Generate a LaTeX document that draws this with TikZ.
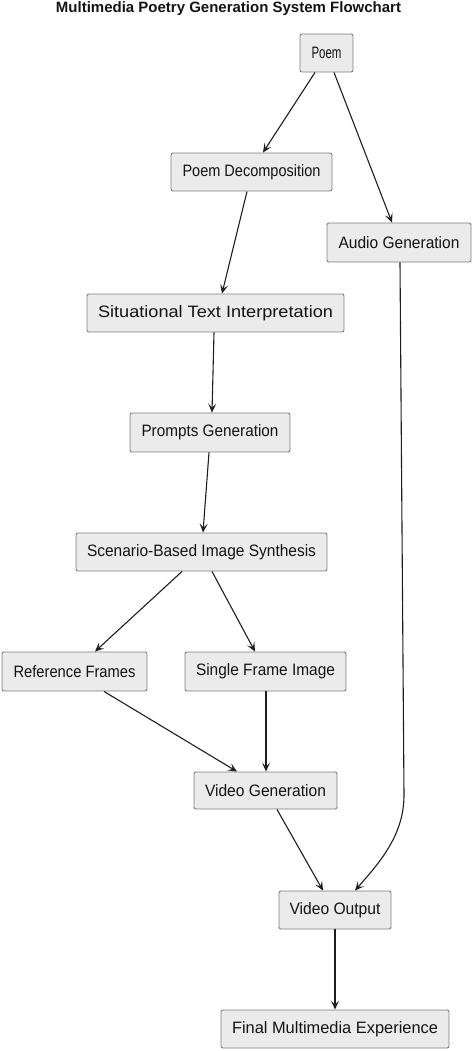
\documentclass[tikz,border=0pt]{standalone}
\usepackage{fontspec}
\setmainfont{Liberation Sans}
\usetikzlibrary{arrows.meta,calc}
\definecolor{boxfill}{HTML}{EBEBEB}
\definecolor{boxline}{HTML}{7E7E7E}
\definecolor{edgecol}{HTML}{1E1E1E}
\definecolor{txtcol}{HTML}{141414}
\newlength\fitlen
\newcommand\fitw[2]{\settowidth\fitlen{#2}\pgfmathsetmacro\fitsx{#1/\fitlen}\scalebox{\fitsx}[1]{#2}}
\begin{document}
\begin{tikzpicture}[x=1pt,y=-1pt,
  stepbox/.style={draw=boxline,fill=boxfill,rounded corners=2pt,line width=0.9pt,
    inner sep=0pt,text=txtcol,font=\fontsize{16.5}{18}\selectfont},
  flow/.style={draw=edgecol,line width=1.1pt,-{Stealth[length=9pt,width=8pt,inset=4pt]}}]
\useasboundingbox (0,0) rectangle (474,1051);
\node[font=\fontsize{15}{17}\selectfont\bfseries,text=txtcol] (title) at (228.5,9) {\fitw{345pt}{Multimedia Poetry Generation System Flowchart}};
\node[stepbox,minimum width=53pt,minimum height=38pt] (poem) at (326.5,53) {\fitw{30pt}{Poem}};
\node[stepbox,minimum width=161pt,minimum height=38pt] (pd) at (251.5,172) {\fitw{138pt}{Poem Decomposition}};
\node[stepbox,minimum width=144pt,minimum height=39pt] (ag) at (399,242.5) {\fitw{121pt}{Audio Generation}};
\node[stepbox,minimum width=257pt,minimum height=38pt] (sti) at (215.5,313) {\fitw{235pt}{Situational Text Interpretation}};
\node[stepbox,minimum width=160pt,minimum height=39pt] (pg) at (210,432.5) {\fitw{137pt}{Prompts Generation}};
\node[stepbox,minimum width=251pt,minimum height=38pt] (sbis) at (201.5,552) {\fitw{229pt}{Scenario-Based Image Synthesis}};
\node[stepbox,minimum width=145pt,minimum height=39pt] (rf) at (74.5,671.5) {\fitw{122pt}{Reference Frames}};
\node[stepbox,minimum width=161pt,minimum height=39pt] (sfi) at (265.5,671.5) {\fitw{139pt}{Single Frame Image}};
\node[stepbox,minimum width=143pt,minimum height=37pt] (vg) at (265.5,790.5) {\fitw{121pt}{Video Generation}};
\node[stepbox,minimum width=112pt,minimum height=38pt] (vo) at (335,910) {\fitw{91pt}{Video Output}};
\node[stepbox,minimum width=228pt,minimum height=38pt] (fme) at (335,1029) {\fitw{206pt}{Final Multimedia Experience}};
\coordinate (bend) at (404,795);
\draw[flow] ([xshift=-11.5pt]poem.south) -- ([xshift=11.5pt]pd.north);
\draw[flow] ([xshift=7.5pt]poem.south) -- ([xshift=-7pt]ag.north);
\draw[flow] ([xshift=-4.5pt]pd.south) -- ([xshift=6.5pt]sti.north);
\draw[flow] ([xshift=-1.5pt]sti.south) -- ([xshift=2pt]pg.north);
\draw[flow] ([xshift=-1pt]pg.south) -- ([xshift=1.5pt]sbis.north);
\draw[flow] ([xshift=-19.5pt]sbis.south) -- ([xshift=20.5pt]rf.north);
\draw[flow] ([xshift=10.5pt]sbis.south) -- ([xshift=-10.5pt]sfi.north);
\draw[flow] ([xshift=29.5pt]rf.south) -- ([xshift=-28.5pt]vg.north);
\draw[flow] ([xshift=0.5pt]sfi.south) -- ([xshift=0.5pt]vg.north);
\draw[flow] ([xshift=11.5pt]vg.south) -- ([xshift=-12pt]vo.north);
\draw[flow] ([xshift=1pt]ag.south) -- (bend) .. controls (404,835) and (380,862) .. ([xshift=20pt]vo.north);
\draw[flow] (vo.south) -- (fme.north);
\end{tikzpicture}
\end{document}
